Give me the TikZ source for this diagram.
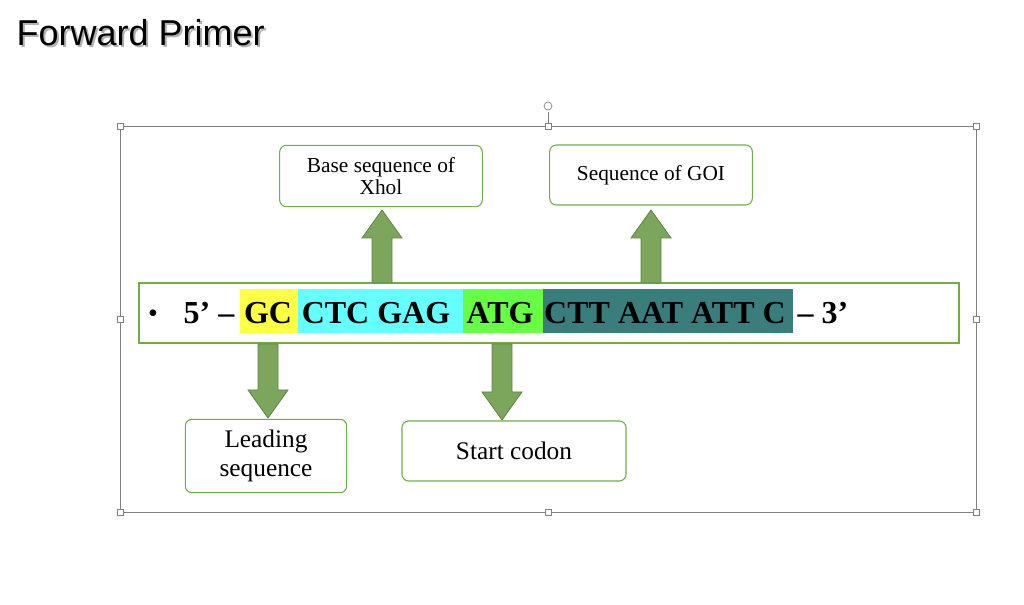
\documentclass[tikz,border=0pt]{standalone}
\usepackage{fontspec}
\setmainfont{Liberation Serif}
\newfontfamily\sansf{Liberation Sans}
\definecolor{arr}{HTML}{7BA65B}
\definecolor{arrd}{HTML}{5E8446}
\definecolor{bx}{HTML}{70AD47}
\definecolor{hy}{HTML}{FFFF44}
\definecolor{hc}{HTML}{66FFFF}
\definecolor{hg}{HTML}{66FF44}
\definecolor{ht}{HTML}{3A7D7D}
\begin{document}
\begin{tikzpicture}[x=0.75pt,y=-0.75pt,
  lbl/.style={draw=bx,line width=0.8pt,rounded corners=5pt,align=center,font=\fontsize{16}{17}\selectfont},
  seq/.style={font=\bfseries\fontsize{24}{24}\selectfont,inner sep=0pt,anchor=center},
  handle/.style={draw=gray,fill=white,line width=0.4pt,minimum size=4.5pt,inner sep=0pt}]
\useasboundingbox (0,0) rectangle (1024,605);
\node[anchor=west,font=\sansf\fontsize{27}{27}\selectfont,text=gray!60] at (14,35) {Forward Primer};
\node[anchor=west,font=\sansf\fontsize{27}{27}\selectfont] (title) at (12,33) {Forward Primer};
% frame
\draw[gray,line width=0.6pt] (120,126) rectangle (976,512);
\draw[gray,line width=0.5pt] (548,112) -- (548,126);
\node[draw=gray,circle,inner sep=0pt,minimum size=6pt,line width=0.5pt] (rot) at (548,106) {};
\foreach \x/\y in {120/126,548/126,976/126,120/319,976/319,120/512,548/512,976/512}
  \node[handle] at (\x,\y) {};
% main box
\node[draw=bx,line width=0.8pt,minimum width=615pt,minimum height=45pt,inner sep=0pt] (main) at (549,313) {};
\fill[hy] (240,289) rectangle (298,333);
\fill[hc] (298,289) rectangle (463,333);
\fill[hg] (463,289) rectangle (543,333);
\fill[ht] (543,289) rectangle (793,333);
\node[font=\fontsize{21}{21}\selectfont] at (153,316) {•};
\node[seq] at (209,313) {5’ –};
\node[seq] (gc) at (268,313) {GC};
\node[seq] (ctc) at (376,313) {CTC GAG};
\node[seq] (atg) at (500,313) {ATG};
\node[seq] (goi) at (665,313) {CTT AAT ATT C};
\node[seq] at (823,313) {– 3’};
% label boxes
\node[lbl,minimum width=152pt,minimum height=46pt] (xho) at (381,176) {Base sequence of\\Xhol};
\node[lbl,minimum width=152pt,minimum height=45pt] (sgoi) at (651,175) {Sequence of GOI};
\node[lbl,font=\fontsize{19}{22}\selectfont,minimum width=121pt,minimum height=55pt] (lead) at (266,456) {Leading\\sequence};
\node[lbl,font=\fontsize{19}{20}\selectfont,minimum width=168pt,minimum height=45pt] (start) at (514,451) {Start codon};
% block arrows
\def\uparr#1#2#3{\draw[arrd,fill=arr,line width=0.6pt] (#1-10,#2) -- (#1-10,#3+28) -- (#1-20,#3+28) -- (#1,#3) -- (#1+20,#3+28) -- (#1+10,#3+28) -- (#1+10,#2) -- cycle;}
\def\dnarr#1#2#3{\draw[arrd,fill=arr,line width=0.6pt] (#1-10,#2) -- (#1-10,#3-28) -- (#1-20,#3-28) -- (#1,#3) -- (#1+20,#3-28) -- (#1+10,#3-28) -- (#1+10,#2) -- cycle;}
\uparr{382}{283}{210}
\uparr{651}{283}{210}
\dnarr{268}{344}{418}
\dnarr{502}{344}{420}
\end{tikzpicture}
\end{document}
